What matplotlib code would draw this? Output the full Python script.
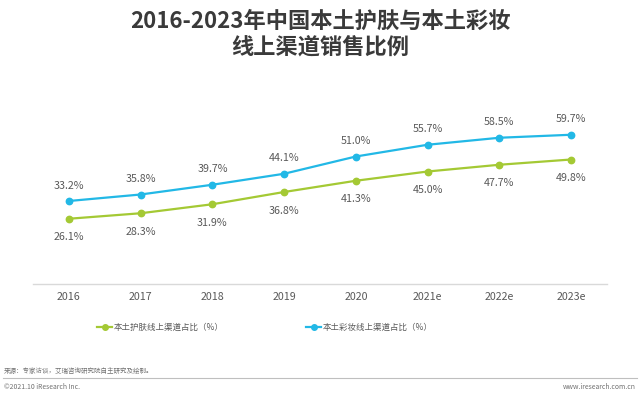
import matplotlib
matplotlib.use("Agg")
import matplotlib.pyplot as plt
from matplotlib.lines import Line2D

plt.rcParams['font.family'] = ['Noto Sans CJK SC', 'DejaVu Sans']

years = ["2016", "2017", "2018", "2019", "2020", "2021e", "2022e", "2023e"]
skincare = [26.1, 28.3, 31.9, 36.8, 41.3, 45.0, 47.7, 49.8]
makeup = [33.2, 35.8, 39.7, 44.1, 51.0, 55.7, 58.5, 59.7]
skin_label = "本土护肤线上渠道占比（%）"
makeup_label = "本土彩妆线上渠道占比（%）"
title = "2016-2023年中国本土护肤与本土彩妆\n线上渠道销售比例"

GREEN = "#a4c934"
BLUE = "#22b8e6"
TXT = "#595959"

W, H = 640, 399
fig = plt.figure(figsize=(W / 100, H / 100), dpi=100)
ax = fig.add_axes([33 / W, 1 - 284 / H, (607 - 33) / W, 200 / H])
ax.set_xlim(-0.5, len(years) - 0.5)
ax.set_ylim(0, 80)
x = list(range(len(years)))

ax.plot(x, skincare, color=GREEN, lw=1.6, marker='o', ms=4.6, zorder=3)
ax.plot(x, makeup, color=BLUE, lw=1.6, marker='o', ms=4.6, zorder=3)

for xi, v in zip(x, makeup):
    ax.annotate(f"{v:.1f}%", (xi, v), xytext=(0, 11), textcoords='offset points',
                ha='center', va='center', fontsize=7.7, color=TXT)
for xi, v in zip(x, skincare):
    ax.annotate(f"{v:.1f}%", (xi, v), xytext=(0, -13.5), textcoords='offset points',
                ha='center', va='center', fontsize=7.7, color=TXT)

for s in ['top', 'right', 'left']:
    ax.spines[s].set_visible(False)
ax.spines['bottom'].set_color('#d9d9d9')
ax.spines['bottom'].set_linewidth(1)
ax.set_yticks([])
ax.set_xticks(x)
ax.set_xticklabels(years, fontsize=7.7, color=TXT)
ax.tick_params(axis='x', length=0, pad=6)

fig.text(0.5, 1 - 34 / H, title, ha='center', va='center', fontsize=16,
         fontweight='bold', color='#3a3a3a', linespacing=1.15)

handles = [Line2D([0], [0], color=GREEN, lw=1.6, marker='o', ms=4),
           Line2D([0], [0], color=BLUE, lw=1.6, marker='o', ms=4)]
fig.legend(handles, [skin_label, makeup_label], loc='center',
           bbox_to_anchor=(265 / W, 1 - 327 / H), ncol=2, frameon=False,
           fontsize=6.1, labelcolor=TXT, handlelength=1.8, handletextpad=0.2,
           columnspacing=9.7)

fig.text(4 / W, 1 - 371 / H, "来源：专家访谈，艾瑞咨询研究院自主研究及绘制。",
         ha='left', va='center', fontsize=4.7, color='#707070')
fig.add_artist(Line2D([3 / W, 637 / W], [1 - 378 / H, 1 - 378 / H],
                      color='#bfbfbf', lw=0.8, transform=fig.transFigure))
fig.text(4 / W, 1 - 387 / H, "©2021.10 iResearch Inc.", ha='left', va='center',
         fontsize=4.9, color='#707070')
fig.text(636 / W, 1 - 387 / H, "www.iresearch.com.cn", ha='right', va='center',
         fontsize=4.9, color='#707070')

fig.savefig("out.png", dpi=100, facecolor='white')
